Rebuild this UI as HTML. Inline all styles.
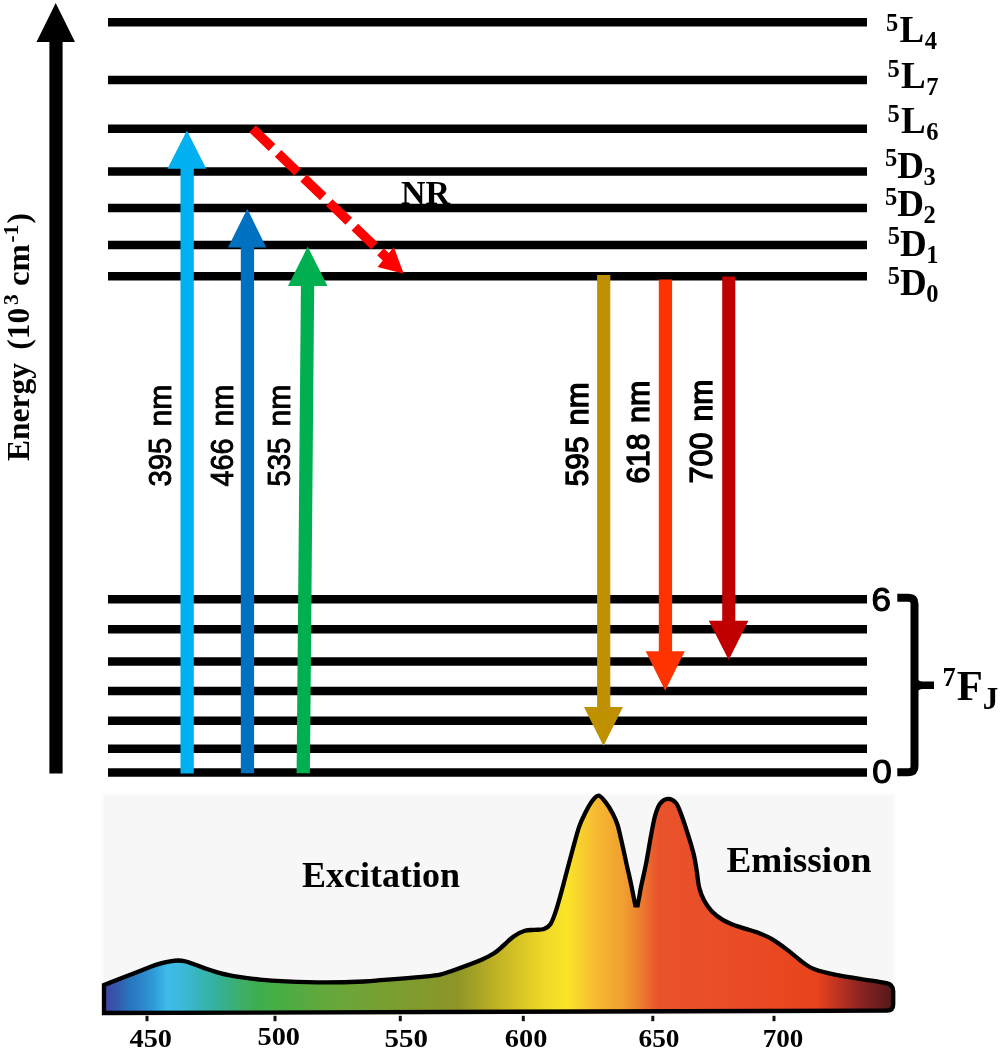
<!DOCTYPE html>
<html lang="en">
<head>
<meta charset="utf-8">
<title>Energy level diagram</title>
<style>
html,body{margin:0;padding:0;background:#fff;}
body{width:1000px;height:1052px;overflow:hidden;}
svg{display:block;}
.serif{font-family:"Liberation Serif",serif;font-weight:bold;fill:#000;}
.sans{font-family:"Liberation Sans",sans-serif;fill:#000;}
</style>
</head>
<body>
<svg width="1000" height="1052" viewBox="0 0 1000 1052">
<defs>
<linearGradient id="spec" gradientUnits="userSpaceOnUse" x1="104" y1="0" x2="891" y2="0">
<stop offset="0.0000" stop-color="#3f43a3"/>
<stop offset="0.0178" stop-color="#345baf"/>
<stop offset="0.0343" stop-color="#2878be"/>
<stop offset="0.0483" stop-color="#2d84ca"/>
<stop offset="0.0635" stop-color="#2f9cd9"/>
<stop offset="0.0813" stop-color="#3fbcea"/>
<stop offset="0.1029" stop-color="#3bb8d6"/>
<stop offset="0.1220" stop-color="#36b5b8"/>
<stop offset="0.1474" stop-color="#35b095"/>
<stop offset="0.1728" stop-color="#3dae6a"/>
<stop offset="0.1944" stop-color="#3dae52"/>
<stop offset="0.2173" stop-color="#45ae45"/>
<stop offset="0.2973" stop-color="#6aa63a"/>
<stop offset="0.3634" stop-color="#7a9e30"/>
<stop offset="0.4295" stop-color="#88972a"/>
<stop offset="0.4498" stop-color="#8e9527"/>
<stop offset="0.4956" stop-color="#bdb025"/>
<stop offset="0.5286" stop-color="#d8c526"/>
<stop offset="0.5578" stop-color="#eed827"/>
<stop offset="0.5883" stop-color="#fbe428"/>
<stop offset="0.6277" stop-color="#f5b731"/>
<stop offset="0.6595" stop-color="#f0a030"/>
<stop offset="0.6785" stop-color="#ed842f"/>
<stop offset="0.6912" stop-color="#ea6a2d"/>
<stop offset="0.7039" stop-color="#e9532b"/>
<stop offset="0.8081" stop-color="#e94c26"/>
<stop offset="0.9060" stop-color="#e8431c"/>
<stop offset="0.9288" stop-color="#c23520"/>
<stop offset="0.9606" stop-color="#8e2420"/>
<stop offset="0.9809" stop-color="#701e1e"/>
<stop offset="1.0000" stop-color="#551819"/>
</linearGradient>
</defs>
<rect x="0" y="0" width="1000" height="1052" fill="#ffffff"/>

<!-- grey panel -->
<rect x="101.8" y="793.5" width="793.9" height="221.5" fill="#fbfbfb"/>
<rect x="104" y="795.8" width="789" height="217" fill="#f7f7f7"/>

<!-- upper levels -->
<g stroke="#000" stroke-width="8.5">
<line x1="108" y1="22.3" x2="867" y2="22.3"/>
<line x1="108" y1="80" x2="867" y2="80"/>
<line x1="108" y1="128.7" x2="867" y2="128.7"/>
<line x1="108" y1="171.4" x2="867" y2="171.4"/>
<line x1="108" y1="208.1" x2="867" y2="208.1"/>
<line x1="108" y1="245.1" x2="867" y2="245.1"/>
<line x1="108" y1="276.3" x2="867" y2="276.3"/>
<!-- lower levels -->
<line x1="108" y1="599.2" x2="867" y2="599.2"/>
<line x1="108" y1="629.3" x2="867" y2="629.3"/>
<line x1="108" y1="661.6" x2="867" y2="661.6"/>
<line x1="108" y1="691" x2="867" y2="691"/>
<line x1="108" y1="720.8" x2="867" y2="720.8"/>
<line x1="108" y1="748.7" x2="867" y2="748.7"/>
<line x1="108" y1="772.4" x2="867" y2="772.4"/>
</g>

<!-- energy axis arrow -->
<polygon fill="#000" points="49.4,773.6 49.4,42 36.5,42 55.7,3 75,42 62.6,42 62.6,773.6"/>

<!-- excitation arrows -->
<polygon fill="#00b0f0" points="180.5,773.6 180.5,168.8 167.5,168.8 186.9,130.5 206.3,168.8 193.8,168.8 193.8,773.6"/>
<polygon fill="#0070c0" points="240.8,773.2 240.8,247.5 228,247.5 247.3,208.8 266.3,247.5 254.1,247.5 254.1,773.2"/>
<polygon fill="#00b050" points="296.6,773.2 300.9,286.1 288,286.1 307.7,246.6 327.5,286.1 314.2,286.1 309.9,773.2"/>

<!-- emission arrows -->
<polygon fill="#bf9000" points="597.1,275 610.3,275 610.3,706.9 622.9,706.9 603.5,746 584,706.9 597.1,706.9"/>
<polygon fill="#ff3300" points="658.8,279.4 672.1,279.4 672.1,651.2 684.8,651.2 665.2,690.8 645.7,651.2 658.8,651.2"/>
<polygon fill="#c00000" points="722.2,276.6 735.3,276.6 735.3,620.7 748.4,620.7 728.7,660.1 708.8,620.7 722.2,620.7"/>

<!-- NR dashed arrow -->
<line x1="252.5" y1="128.8" x2="388" y2="259" stroke="#ff0000" stroke-width="9.5" stroke-dasharray="27 8.5"/>
<polygon fill="#ff0000" points="403.8,273.8 393.8,247 377.5,267"/>
<text class="serif" x="401" y="203.8" font-size="33" textLength="49" lengthAdjust="spacingAndGlyphs">NR</text>

<!-- level labels -->
<g class="serif" font-size="37">
<text x="886" y="41.9"><tspan font-size="24.5" dy="-11.2">5</tspan><tspan dy="11.2" dx="1.3">L</tspan><tspan font-size="24.5" dy="7" dx="0.5">4</tspan></text>
<text x="887.5" y="87.7"><tspan font-size="24.5" dy="-11.2">5</tspan><tspan dy="11.2" dx="1.3">L</tspan><tspan font-size="24.5" dy="7" dx="0.5">7</tspan></text>
<text x="887.5" y="132.8"><tspan font-size="24.5" dy="-11.2">5</tspan><tspan dy="11.2" dx="1.3">L</tspan><tspan font-size="24.5" dy="7" dx="0.5">6</tspan></text>
<text x="885" y="177.6"><tspan font-size="24.5" dy="-11.2">5</tspan><tspan dy="11.2" dx="0">D</tspan><tspan font-size="24.5" dy="7" dx="-0.4">3</tspan></text>
<text x="885" y="216"><tspan font-size="24.5" dy="-11.2">5</tspan><tspan dy="11.2" dx="0">D</tspan><tspan font-size="24.5" dy="7" dx="-0.4">2</tspan></text>
<text x="887.7" y="255.5"><tspan font-size="24.5" dy="-11.2">5</tspan><tspan dy="11.2" dx="0">D</tspan><tspan font-size="24.5" dy="7" dx="-0.4">1</tspan></text>
<text x="887.7" y="295.2"><tspan font-size="24.5" dy="-11.2">5</tspan><tspan dy="11.2" dx="0">D</tspan><tspan font-size="24.5" dy="7" dx="-0.4">0</tspan></text>
</g>

<!-- 6 / 0 / brace / 7FJ -->
<text class="sans" x="871.6" y="611" font-size="32.5" stroke="#000" stroke-width="1.05" textLength="19.5" lengthAdjust="spacingAndGlyphs">6</text>
<text class="sans" x="872.2" y="783" font-size="32.5" stroke="#000" stroke-width="1.05" textLength="19.5" lengthAdjust="spacingAndGlyphs">0</text>
<path d="M897.3,597.8 L908.5,597.8 Q914.5,597.8 914.5,604 L914.5,766 Q914.5,772.2 908.5,772.2 L897.3,772.2" fill="none" stroke="#000" stroke-width="8"/>
<path d="M916,676 Q917.5,681.5 923,681.5 L934,681.5 L934,689.1 L923,689.1 Q917.5,689.1 916,694.5 Z" fill="#000"/>
<text class="serif" x="942.5" y="700" font-size="42.7"><tspan font-size="26.5" dy="-14">7</tspan><tspan dy="14" dx="1">F</tspan><tspan font-size="31" dy="8.8" dx="0">J</tspan></text>

<!-- wavelength labels (rotated) -->
<g class="sans" font-size="31.2" stroke="#000" stroke-width="0.9">
<g transform="translate(171,0) rotate(-90)"><text x="-486.6" textLength="49.0" lengthAdjust="spacingAndGlyphs">395</text><text x="-426.5" textLength="41.9" lengthAdjust="spacingAndGlyphs">nm</text></g>
<g transform="translate(233,0) rotate(-90)"><text x="-486.6" textLength="48.0" lengthAdjust="spacingAndGlyphs">466</text><text x="-426.5" textLength="41.9" lengthAdjust="spacingAndGlyphs">nm</text></g>
<g transform="translate(290,0) rotate(-90)"><text x="-486.6" textLength="49.0" lengthAdjust="spacingAndGlyphs">535</text><text x="-426.5" textLength="41.9" lengthAdjust="spacingAndGlyphs">nm</text></g>
</g>
<g class="sans" font-size="30.6" stroke="#000" stroke-width="1.35">
<g transform="translate(588,0) rotate(-90)"><text x="-486.2" textLength="49.6" lengthAdjust="spacingAndGlyphs">595</text><text x="-425.5" textLength="42.9" lengthAdjust="spacingAndGlyphs">nm</text></g>
<g transform="translate(649.4,0) rotate(-90)"><text x="-483.6" textLength="50.0" lengthAdjust="spacingAndGlyphs">618</text><text x="-422.9" textLength="42.3" lengthAdjust="spacingAndGlyphs">nm</text></g>
<g transform="translate(711.6,0) rotate(-90)"><text x="-483.6" textLength="51.0" lengthAdjust="spacingAndGlyphs">700</text><text x="-421.5" textLength="41.9" lengthAdjust="spacingAndGlyphs">nm</text></g>
</g>

<!-- energy label -->
<g class="serif" font-size="31.5" transform="translate(28.8,0) rotate(-90)">
<text x="-461" y="0">Energy</text>
<text x="-349.8" y="0">(10</text>
<text x="-305" y="-10.8" font-size="21.5">3</text>
<text x="-286" y="0" textLength="42" lengthAdjust="spacingAndGlyphs">cm</text>
<text x="-242.6" y="-10.8" font-size="21.5">-1</text>
<text x="-223.6" y="0">)</text>
</g>

<!-- spectrum -->
<path id="specpath" fill="url(#spec)" stroke="#000" stroke-width="4.3" stroke-linejoin="miter"
d="M104,1013 L104,985 C108.5,983.2 123.3,977.4 131.0,974.4 C138.7,971.4 145.2,968.8 150.0,967.0 C154.8,965.2 156.7,964.6 160.0,963.6 C163.3,962.6 167.0,961.8 170.0,961.3 C173.0,960.8 175.3,960.5 178.0,960.5 C180.7,960.5 183.7,961.0 186.0,961.5 C188.3,962.0 189.2,962.5 192.0,963.5 C194.8,964.5 198.2,966.0 203.0,967.6 C207.8,969.2 215.0,971.8 221.0,973.3 C227.0,974.8 232.5,975.8 239.0,976.9 C245.5,978.0 252.2,978.9 260.0,979.6 C267.8,980.3 275.2,980.8 286.0,981.3 C296.8,981.8 312.0,982.4 325.0,982.4 C338.0,982.4 354.8,981.9 364.0,981.5 C373.2,981.1 374.4,980.7 380.0,980.2 C385.6,979.8 390.1,979.4 397.8,978.8 C405.5,978.2 419.4,977.1 426.4,976.4 C433.4,975.7 435.7,975.5 440.0,974.6 C444.3,973.7 445.6,973.1 452.4,970.7 C459.2,968.3 474.1,962.9 481.0,960.0 C487.9,957.1 490.2,955.8 494.0,953.3 C497.8,950.8 500.7,947.8 504.0,945.0 C507.3,942.2 510.1,938.8 513.6,936.4 C517.1,934.0 521.3,931.9 524.8,930.8 C528.3,929.7 531.2,930.2 534.4,929.9 C537.6,929.6 541.3,930.0 544.0,929.0 C546.7,928.0 548.5,926.9 550.4,924.2 C552.3,921.5 553.6,917.5 555.2,913.0 C556.8,908.5 558.1,903.7 560.0,897.0 C561.9,890.3 564.3,881.0 566.4,873.0 C568.5,865.0 570.7,856.7 572.8,849.0 C574.9,841.3 577.1,832.7 579.2,826.6 C581.3,820.5 583.5,816.4 585.6,812.2 C587.7,808.0 589.9,804.0 592.0,801.2 C594.1,798.4 596.3,795.6 598.4,795.6 C600.5,795.6 602.4,798.2 604.8,801.2 C607.2,804.2 610.7,809.8 612.8,813.8 C614.9,817.8 616.3,821.0 617.6,825.0 C618.9,829.0 619.7,833.5 620.8,838.0 C621.9,842.5 622.9,847.4 624.0,852.2 C625.1,857.0 626.1,862.2 627.2,867.0 C628.3,871.8 629.4,876.3 630.4,881.0 C631.4,885.7 632.5,891.3 633.3,895.4 C634.1,899.5 635.0,903.7 635.4,905.4 L637.6,905.4 C637.9,903.7 639.1,897.9 639.6,895.0 C640.1,892.1 639.7,893.5 640.8,888.0 C641.9,882.5 644.7,870.7 646.4,861.8 C648.1,852.9 649.7,842.3 651.2,834.6 C652.7,826.9 653.7,820.5 655.2,815.4 C656.7,810.3 657.9,806.6 660.0,803.8 C662.1,801.0 665.3,798.9 668.0,798.8 C670.7,798.7 673.7,800.2 676.0,803.0 C678.3,805.8 679.6,810.1 681.6,815.4 C683.6,820.7 686.0,828.2 688.0,834.6 C690.0,841.0 692.1,847.7 693.6,853.8 C695.1,859.9 695.9,865.8 696.8,871.4 C697.7,877.0 698.0,882.6 699.2,887.4 C700.4,892.2 701.9,896.2 704.0,900.2 C706.1,904.2 708.8,908.1 712.0,911.4 C715.2,914.7 719.2,917.8 723.2,920.2 C727.2,922.6 731.7,924.2 736.0,925.8 C740.3,927.4 744.8,928.5 748.8,929.8 C752.8,931.1 756.1,931.8 760.0,933.4 C763.9,935.0 767.3,936.4 772.0,939.2 C776.7,942.0 782.7,946.4 788.0,950.4 C793.3,954.4 799.5,960.0 804.0,963.2 C808.5,966.4 809.9,967.7 815.2,969.6 C820.5,971.5 828.5,973.3 836.0,974.8 C843.5,976.3 852.8,977.6 860.0,978.8 C867.2,980.0 874.8,981.1 879.2,981.8 C883.6,982.5 885.3,983.0 886.5,983.2 Q893.2,984.8 893.2,991 L893.2,1004.6 Q893.2,1010.6 887,1010.6 Z"/>

<!-- ticks -->
<g stroke="#111" stroke-width="3">
<line x1="147" y1="1015.8" x2="147" y2="1021.2"/>
<line x1="275" y1="1015.8" x2="275" y2="1021.2"/>
<line x1="400.3" y1="1015.8" x2="400.3" y2="1021.2"/>
<line x1="523.3" y1="1015.8" x2="523.3" y2="1021.2"/>
<line x1="652.8" y1="1015.8" x2="652.8" y2="1021.2"/>
<line x1="774" y1="1015.8" x2="774" y2="1021.2"/>
</g>
<g class="serif" font-size="25">
<text x="129.5" y="1047" textLength="42.5" lengthAdjust="spacingAndGlyphs">450</text>
<text x="257.5" y="1044.5" textLength="42.5" lengthAdjust="spacingAndGlyphs">500</text>
<text x="384.5" y="1047" textLength="43.5" lengthAdjust="spacingAndGlyphs">550</text>
<text x="504.8" y="1047" textLength="42.6" lengthAdjust="spacingAndGlyphs">600</text>
<text x="638.5" y="1047" textLength="41" lengthAdjust="spacingAndGlyphs">650</text>
<text x="762.8" y="1047" textLength="40.6" lengthAdjust="spacingAndGlyphs">700</text>
</g>

<text class="serif" x="302" y="887" font-size="36.5" textLength="158" lengthAdjust="spacingAndGlyphs">Excitation</text>
<text class="serif" x="726.5" y="872.4" font-size="36.5" textLength="145" lengthAdjust="spacingAndGlyphs">Emission</text>
</svg>
</body>
</html>
